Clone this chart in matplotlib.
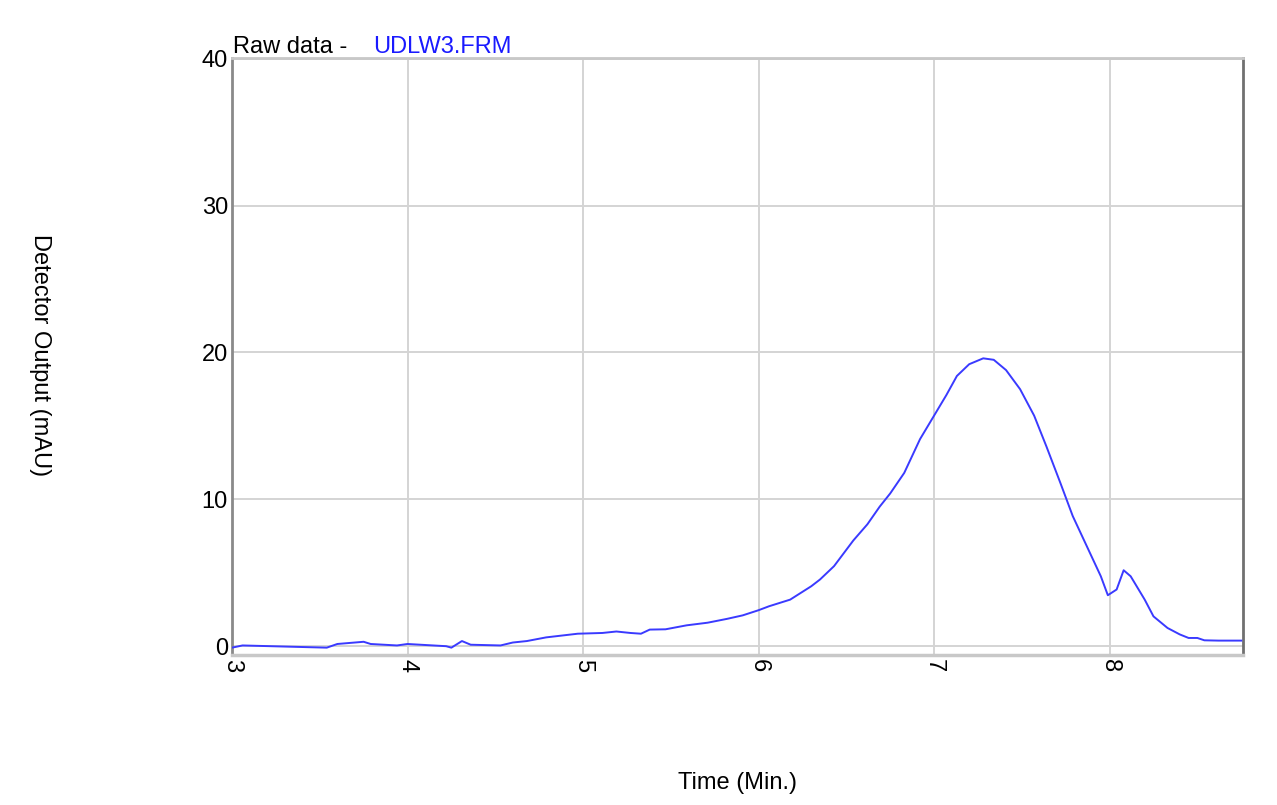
import matplotlib
matplotlib.use("Agg")
import matplotlib.pyplot as plt
from matplotlib import font_manager

names = {f.name for f in font_manager.fontManager.ttflist}
FONT = "Liberation Sans Narrow" if "Liberation Sans Narrow" in names else "Liberation Sans"
plt.rcParams['font.family'] = [FONT, 'DejaVu Sans']

# Data (time in min, detector output in mAU)
time_min = [3.00, 3.06, 3.54, 3.60, 3.75, 3.79, 3.94, 4.00, 4.22, 4.25, 4.31, 4.36,
            4.53, 4.60, 4.68, 4.79, 4.97, 5.11, 5.19, 5.27, 5.33, 5.38, 5.47, 5.59,
            5.71, 5.82, 5.91, 6.00, 6.06, 6.18, 6.30, 6.35, 6.43, 6.54, 6.62, 6.69,
            6.75, 6.83, 6.92, 7.00, 7.07, 7.13, 7.20, 7.28, 7.34, 7.41, 7.49, 7.57,
            7.64, 7.72, 7.79, 7.87, 7.95, 7.99, 8.04, 8.08, 8.12, 8.20, 8.25, 8.33,
            8.40, 8.45, 8.50, 8.54, 8.62, 8.75]
signal_mau = [-0.10, 0.05, -0.10, 0.15, 0.30, 0.15, 0.05, 0.15, 0.00, -0.10, 0.35, 0.10,
              0.05, 0.25, 0.35, 0.60, 0.85, 0.90, 1.00, 0.90, 0.85, 1.13, 1.15, 1.42,
              1.60, 1.86, 2.10, 2.45, 2.72, 3.17, 4.08, 4.54, 5.45, 7.20, 8.30, 9.50,
              10.4, 11.8, 14.1, 15.7, 17.1, 18.4, 19.2, 19.6, 19.5, 18.8, 17.5, 15.7,
              13.6, 11.1, 8.86, 6.81, 4.76, 3.47, 3.86, 5.17, 4.76, 3.17, 2.03, 1.24,
              0.80, 0.56, 0.56, 0.40, 0.38, 0.38]

x_ticks = [3, 4, 5, 6, 7, 8]
y_ticks = [0, 10, 20, 30, 40]

W, H = 1277, 805
fig = plt.figure(figsize=(W / 100, H / 100), dpi=100)
left, right, top, bottom = 232, 1243, 58, 655
ax = fig.add_axes([left / W, 1 - bottom / H, (right - left) / W, (bottom - top) / H])

ax.plot(time_min, signal_mau, color='#3a3aff', lw=1.4, zorder=3)

ax.set_xlim(3, 8.76)
ax.set_ylim(-0.6, 40.05)
ax.set_xticks(x_ticks)
ax.set_yticks(y_ticks)
ax.set_xticklabels([str(t) for t in x_ticks], rotation=-90, fontsize=17)
ax.set_yticklabels([str(t) for t in y_ticks], fontsize=17)
ax.tick_params(length=0, pad=3)
ax.grid(True, color='#d4d4d4', lw=1.4)
ax.set_axisbelow(True)

ax.spines['left'].set_color('#8a8a8a')
ax.spines['left'].set_linewidth(2)
ax.spines['top'].set_color('#c8c8c8')
ax.spines['top'].set_linewidth(2)
ax.spines['right'].set_color('#707070')
ax.spines['right'].set_linewidth(2)
ax.spines['bottom'].set_color('#c8c8c8')
ax.spines['bottom'].set_linewidth(2.5)

fig.text(233 / W, 1 - 53 / H, "Raw data -", fontsize=17, color='black', ha='left', va='baseline')
fig.text(373 / W, 1 - 53 / H, "UDLW3.FRM", fontsize=17, color='#1a1aff', ha='left', va='baseline')
fig.text(40 / W, 1 - 355 / H, "Detector Output (mAU)", fontsize=17, rotation=270,
         ha='center', va='center')
fig.text(737 / W, 1 - 783 / H, "Time (Min.)", fontsize=17, ha='center', va='center')

fig.savefig("out.png", dpi=100)
